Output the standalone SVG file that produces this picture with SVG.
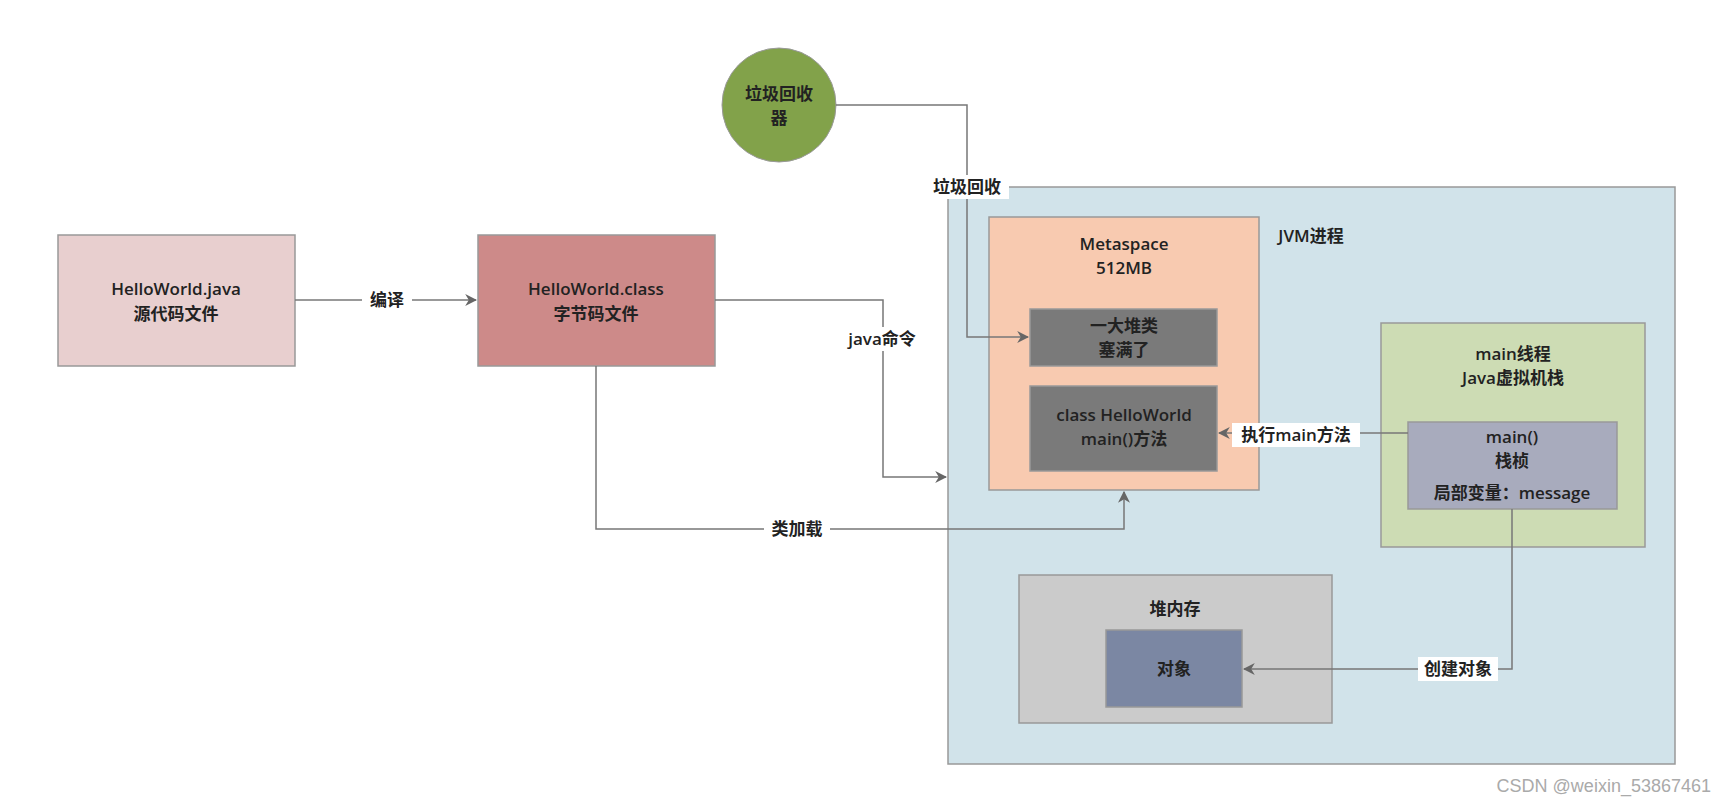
<svg xmlns="http://www.w3.org/2000/svg" width="1728" height="804" viewBox="0 0 1728 804">
<style>
text{font-family:"Open Sans","Noto Sans CJK SC",sans-serif;font-size:17px;font-weight:600;fill:#222;text-anchor:middle}
.box{stroke:#999;stroke-width:1.5}
.ln{fill:none;stroke:#777;stroke-width:1.5}
.lb{fill:#fff}
</style>
<defs><marker id="a" viewBox="0 0 10 10" refX="9" refY="5" markerWidth="8" markerHeight="8" orient="auto"><path d="M0,0L10,5L0,10L3,5z" fill="#666"/></marker></defs>
<rect width="1728" height="804" fill="#fff"/>
<g id="jvm"><rect class="box" x="948" y="187" width="727" height="577" fill="#d1e3ea"/><text x="1311" y="242">JVM进程</text></g>
<g id="java"><rect class="box" x="58" y="235" width="237" height="131" fill="#e8cfcf"/><text x="176" y="295">HelloWorld.java</text><text x="176" y="320">源代码文件</text></g>
<g id="class"><rect class="box" x="478" y="235" width="237" height="131" fill="#cd8a89"/><text x="596" y="295">HelloWorld.class</text><text x="596" y="320">字节码文件</text></g>
<g id="gc"><circle cx="779" cy="105" r="57" fill="#82a24a" stroke="#999"/><text x="779" y="100">垃圾回收</text><text x="779" y="124">器</text></g>
<g id="meta"><rect class="box" x="989" y="217" width="270" height="273" fill="#f8cab0"/><text x="1124" y="250">Metaspace</text><text x="1124" y="274">512MB</text></g>
<g id="heapcls"><rect class="box" x="1030" y="309" width="187" height="57" fill="#7a7a7a"/><text x="1124" y="332">一大堆类</text><text x="1124" y="356">塞满了</text></g>
<g id="hw"><rect class="box" x="1030" y="386" width="187" height="85" fill="#7a7a7a"/><text x="1124" y="421">class HelloWorld</text><text x="1124" y="445">main()方法</text></g>
<g id="thread"><rect class="box" x="1381" y="323" width="264" height="224" fill="#cddcb4"/><text x="1513" y="360">main线程</text><text x="1513" y="384">Java虚拟机栈</text></g>
<g id="frame"><rect class="box" x="1408" y="422" width="209" height="87" fill="#a8abbd"/><text x="1512" y="443">main()</text><text x="1512" y="467">栈桢</text><text x="1512" y="499">局部变量：message</text></g>
<g id="heap"><rect class="box" x="1019" y="575" width="313" height="148" fill="#cbcbcb"/><text x="1175" y="615">堆内存</text></g>
<g id="obj"><rect class="box" x="1106" y="630" width="136" height="77" fill="#7b87a3"/><text x="1174" y="675">对象</text></g>
<g id="edges">
<path class="ln" d="M295,300H476" marker-end="url(#a)"/>
<path class="ln" d="M715,300H883V477H946" marker-end="url(#a)"/>
<path class="ln" d="M596,366V529H1124V492" marker-end="url(#a)"/>
<path class="ln" d="M836,105H967V337H1028" marker-end="url(#a)"/>
<path class="ln" d="M1408,433H1219" marker-end="url(#a)"/>
<path class="ln" d="M1512,509V669H1244" marker-end="url(#a)"/>
<rect class="lb" x="362" y="288" width="50" height="24"/><text x="387" y="306">编译</text>
<rect class="lb" x="840" y="327" width="84" height="24"/><text x="882" y="345">java命令</text>
<rect class="lb" x="764" y="517" width="66" height="24"/><text x="797" y="535">类加载</text>
<rect class="lb" x="925" y="175" width="84" height="24"/><text x="967" y="193">垃圾回收</text>
<rect class="lb" x="1232" y="423" width="128" height="24"/><text x="1296" y="441">执行main方法</text>
<rect class="lb" x="1418" y="657" width="80" height="24"/><text x="1458" y="675">创建对象</text>
</g>
<text x="1711" y="792" style="text-anchor:end;font-family:'Liberation Sans',sans-serif;font-weight:400;fill:#aaa;font-size:18px">CSDN @weixin_53867461</text>
</svg>
